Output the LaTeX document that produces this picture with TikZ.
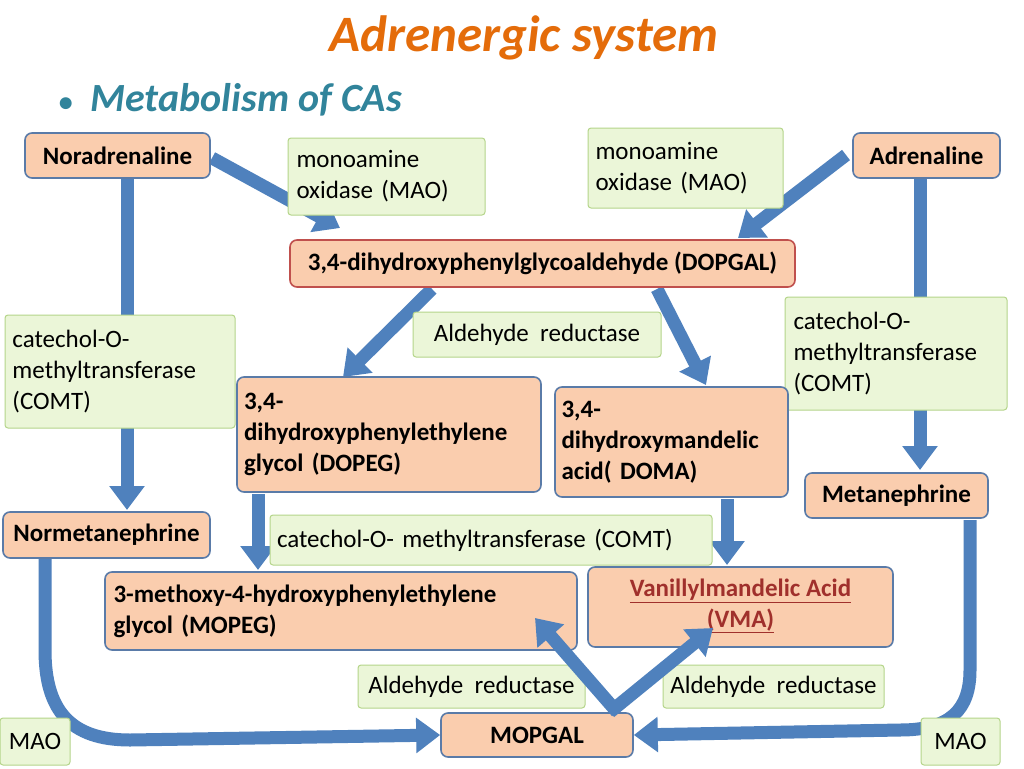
\documentclass[tikz,border=0pt]{standalone}
\usepackage{fontspec}
\setmainfont{Carlito}
\usetikzlibrary{arrows.meta}
\pgfdeclarelayer{bg}
\pgfsetlayers{bg,main}
\definecolor{peach}{HTML}{FACDAE}
\definecolor{boxb}{HTML}{5A7BA8}
\definecolor{redb}{HTML}{C0504D}
\definecolor{gfill}{HTML}{EBF6D8}
\definecolor{gb}{HTML}{B5D58A}
\definecolor{arr}{HTML}{4F81BD}
\definecolor{ttl}{HTML}{E46C0A}
\definecolor{teal}{HTML}{31849B}
\definecolor{vma}{HTML}{A0302C}
\begin{document}
\begin{tikzpicture}[x=1pt,y=-1pt,
 obox/.style={draw=boxb,fill=peach,rounded corners=7,line width=1.6,inner sep=0,font=\bfseries\fontsize{25}{31}\selectfont},
 gbox/.style={draw=gb,fill=gfill,rounded corners=3,line width=1,inner sep=0,font=\fontsize{25}{31}\selectfont},
 ba/.style={draw=arr,line width=13,-{Triangle[length=24pt,width=34pt]}}]
\useasboundingbox (0,0) rectangle (1024,768);
\begin{pgfonlayer}{bg}\fill[white] (0,0) rectangle (1024,768);\end{pgfonlayer}
\node[font=\bfseries\itshape\fontsize{51}{56}\selectfont,text=ttl] (title) at (524,38) {Adrenergic system};
\node[anchor=west,font=\bfseries\itshape\fontsize{40}{44}\selectfont,text=teal] (sub) at (55,100) {{\fontsize{28}{30}\selectfont\textbullet}\ \ Metabolism of CAs};
% nodes
\node[obox,minimum width=185,minimum height=45] (nor) at (117.5,155.5) {Noradrenaline};
\node[gbox,minimum width=197,minimum height=77,text width=180,align=left] (mao1) at (386.5,176.5) {monoamine\\oxidase (MAO)};
\node[gbox,minimum width=195,minimum height=80,text width=180,align=left] (mao2) at (685.5,168) {monoamine\\oxidase (MAO)};
\node[obox,minimum width=147,minimum height=45] (adr) at (926.5,155.5) {Adrenaline};
\node[obox,draw=redb,minimum width=505,minimum height=47] (dopgal) at (542.5,263.5) {3,4-dihydroxyphenylglycoaldehyde (DOPGAL)};
\node[gbox,minimum width=248,minimum height=45] (ar1) at (537,334.5) {Aldehyde\ \ reductase};
\node[gbox,minimum width=230,minimum height=113,text width=215,align=left] (comtl) at (120,371.5) {catechol-O-\\methyltransferase\\(COMT)};
\node[gbox,minimum width=222,minimum height=113,text width=205,align=left] (comtr) at (896,353.5) {catechol-O-\\methyltransferase\\(COMT)};
\node[obox,minimum width=304,minimum height=115,text width=290,align=left] (dopeg) at (389,434.5) {3,4-\\dihydroxyphenylethylene\\glycol (DOPEG)};
\node[obox,minimum width=233,minimum height=110,text width=220,align=left] (doma) at (671.5,442) {3,4-\\dihydroxymandelic\\acid( DOMA)};
\node[obox,minimum width=207,minimum height=46] (normet) at (106.5,535) {Normetanephrine};
\node[obox,minimum width=183,minimum height=45] (met) at (896.5,495.5) {Metanephrine};
\node[gbox,minimum width=442,minimum height=50,text width=428,align=left] (comtm) at (491,540) {catechol-O- methyltransferase (COMT)};
\node[obox,minimum width=472,minimum height=78,text width=455,align=left] (mopeg) at (341,611) {3-methoxy-4-hydroxyphenylethylene\\glycol (MOPEG)};
\node[obox,minimum width=305,minimum height=80] (vmab) at (740.5,607) {};
\node[font=\bfseries\fontsize{25}{31}\selectfont,text=vma,align=center] (vma) at (740.5,606) {\underline{Vanillylmandelic Acid}\\\underline{(VMA)}};
\node[gbox,minimum width=227,minimum height=43] (ar2) at (471.5,686.5) {Aldehyde\ \ reductase};
\node[gbox,minimum width=221,minimum height=43] (ar3) at (773.5,686.5) {Aldehyde\ \ reductase};
\node[gbox,minimum width=70,minimum height=47] (maol) at (35,741.5) {MAO};
\node[obox,minimum width=192,minimum height=44] (mopgal) at (537,735) {MOPGAL};
\node[gbox,minimum width=79,minimum height=47] (maor) at (960.5,741.5) {MAO};
% arrows
\begin{pgfonlayer}{bg}
\coordinate (a1) at (212,158); \coordinate (a1e) at (340,228);
\draw[ba] (a1) -- (a1e);
\coordinate (a2) at (846,155); \coordinate (a2e) at (738,238);
\draw[ba] (a2) -- (a2e);
\draw[ba] (nor.south -| 127,0) -- (127,510);
\draw[ba] (adr.south -| 920,0) -- (920,470);
\draw[ba] (432,289) -- (343,377);
\draw[ba] (657,289) -- (706,385);
\draw[ba] (258,494) -- (258,570);
\draw[ba] (727,499) -- (727,565);
\draw[ba] (45,557) -- (45,650) .. controls (45,710) and (70,740) .. (130,740) -- (mopgal.west);
\draw[ba] (970,520) -- (970,670) .. controls (970,710) and (950,730) .. (900,730) -- (mopgal.east);
\end{pgfonlayer}
\draw[ba] (617,712) -- (535,618);
\draw[ba] (610,712) -- (713,628);
\end{tikzpicture}
\end{document}
